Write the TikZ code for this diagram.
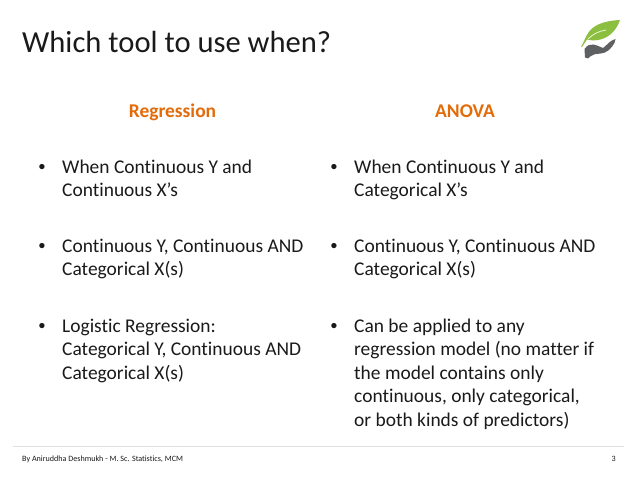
\documentclass[tikz,border=0pt]{standalone}
\usepackage{fontspec}
\setmainfont{Carlito}[Ligatures=NoCommon]
\newfontfamily\bulletfont{Liberation Sans}
\definecolor{headorange}{HTML}{E36C0A}
\definecolor{bodyblack}{HTML}{1A1A1A}
\definecolor{leafgreen}{HTML}{8CBF3F}
\definecolor{handgray}{HTML}{5F6062}
\begin{document}
\begin{tikzpicture}[x=1pt,y=-1pt,
  bodytext/.style={anchor=base west,inner sep=0pt,font=\fontsize{19.45}{19.45}\selectfont,text=bodyblack},
  bullettext/.style={anchor=base west,inner sep=0pt,font=\bulletfont\fontsize{19.45}{19.45}\selectfont,text=bodyblack},
  headtext/.style={anchor=base,inner sep=0pt,font=\fontsize{19.45}{19.45}\selectfont\bfseries,text=headorange},
  foot/.style={inner sep=0pt,font=\fontsize{8.1}{8.1}\selectfont,text=bodyblack}]
\useasboundingbox (0,0) rectangle (638,478);
\fill[white] (0,0) rectangle (638,478);
\node[anchor=base west,inner sep=0pt,font=\fontsize{30.6}{30.6}\selectfont,text=bodyblack] (title) at (22,53) {Which tool to use when?};
% logo
\fill[leafgreen] (581,47) .. controls (584,42) and (585,38) .. (587,35) .. controls (591,27) and (600,21) .. (620,20) .. controls (618,26) and (615,30) .. (612,33) .. controls (606,39) and (596,42) .. (587,39.5) -- (582,47) -- cycle;
\draw[white!85!leafgreen,line width=0.8pt] (588,39) .. controls (593,34) and (599,31) .. (606,30);
\fill[handgray] (585,57.5) -- (584.5,49) .. controls (587,45.5) and (590,44) .. (593,44.5) .. controls (597,45) and (600,47) .. (603,48) .. controls (606,46) and (609,42) .. (612,40.5) -- (615.5,39) .. controls (615.5,42) and (614,44) .. (612.5,46) .. controls (610,49) and (608,51.5) .. (605,52.5) .. controls (601,54) and (597,53.5) .. (594,54.5) .. controls (591,55.5) and (589,57.5) .. (588,58.5) -- cycle;
\node[headtext] (hreg) at (172.5,118) {Regression};
\node[headtext] (hano) at (465,118) {ANOVA};
% left column
\node[bullettext] (b1) at (38.5,173.3) {•};
\node[bodytext] (l1a) at (62,173.3) {When Continuous Y and};
\node[bodytext] (l1b) at (62,197) {Continuous X’s};
\node[bullettext] (b2) at (38.5,253) {•};
\node[bodytext] (l2a) at (62,253) {Continuous Y, Continuous AND};
\node[bodytext] (l2b) at (62,276) {Categorical X(s)};
\node[bullettext] (b3) at (38.5,332.5) {•};
\node[bodytext] (l3a) at (62,332.5) {Logistic Regression:};
\node[bodytext] (l3b) at (62,356) {Categorical Y, Continuous AND};
\node[bodytext] (l3c) at (62,379.5) {Categorical X(s)};
% right column
\node[bullettext] (r1) at (330.5,173.3) {•};
\node[bodytext] (r1a) at (354,173.3) {When Continuous Y and};
\node[bodytext] (r1b) at (354,197) {Categorical X’s};
\node[bullettext] (r2) at (330.5,253) {•};
\node[bodytext] (r2a) at (354,253) {Continuous Y, Continuous AND};
\node[bodytext] (r2b) at (354,276) {Categorical X(s)};
\node[bullettext] (r3) at (330.5,332.5) {•};
\node[bodytext] (r3a) at (354,332.5) {Can be applied to any};
\node[bodytext] (r3b) at (354,356) {regression model (no matter if};
\node[bodytext] (r3c) at (354,379.5) {the model contains only};
\node[bodytext] (r3d) at (354,403) {continuous, only categorical,};
\node[bodytext] (r3e) at (354,426.5) {or both kinds of predictors)};
% footer
\draw[black!12,line width=0.7pt] (13,446) -- (624,446);
\node[foot,anchor=base west] (fl) at (22,462) {By Aniruddha Deshmukh - M. Sc. Statistics, MCM};
\node[foot,anchor=base east] (fr) at (616,462) {3};
\end{tikzpicture}
\end{document}
